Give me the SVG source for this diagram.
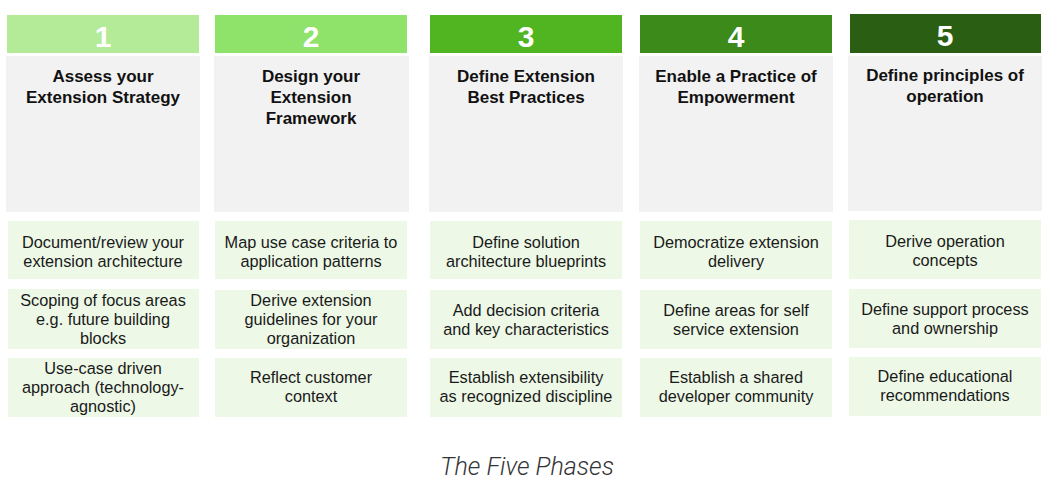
<svg xmlns="http://www.w3.org/2000/svg" width="1052" height="484" viewBox="0 0 1052 484">
<style>
.num{font-family:"Liberation Sans",Arial,sans-serif;font-weight:bold;font-size:30px;fill:#ffffff;text-anchor:middle}
.ttl{font-family:"Liberation Sans",Arial,sans-serif;font-weight:bold;font-size:17px;fill:#111111;text-anchor:middle}
.txt{font-family:"Liberation Sans",Arial,sans-serif;font-size:16.3px;fill:#1a1a1a;text-anchor:middle}
.gray{fill:#f2f2f2}
.lg{fill:#edf8e7}
.cap{font-family:Roboto,"Liberation Sans",sans-serif;font-style:italic;font-weight:300;font-size:25px;fill:#333333;text-anchor:middle}
</style>
<rect width="1052" height="484" fill="#ffffff"/>

<g id="phase1">
<rect x="7" y="15" width="192" height="38" fill="#b3eb98"/>
<text class="num" x="103" y="47">1</text>
<rect class="gray" x="6" y="56" width="194" height="156"/>
<text class="ttl" x="103" y="82">Assess your</text>
<text class="ttl" x="103" y="103">Extension Strategy</text>
<rect class="lg" x="8" y="221" width="191" height="58"/>
<text class="txt" x="103" y="248">Document/review your</text>
<text class="txt" x="103" y="267">extension architecture</text>
<rect class="lg" x="8" y="289" width="191" height="60"/>
<text class="txt" x="103" y="306">Scoping of focus areas</text>
<text class="txt" x="103" y="325">e.g. future building</text>
<text class="txt" x="103" y="344">blocks</text>
<rect class="lg" x="8" y="358" width="191" height="59"/>
<text class="txt" x="103" y="374">Use-case driven</text>
<text class="txt" x="103" y="393">approach (technology-</text>
<text class="txt" x="103" y="412">agnostic)</text>
</g>

<g id="phase2">
<rect x="215" y="15" width="192" height="38" fill="#8fe36a"/>
<text class="num" x="311" y="47">2</text>
<rect class="gray" x="214" y="56" width="195" height="156"/>
<text class="ttl" x="311" y="82">Design your</text>
<text class="ttl" x="311" y="103">Extension</text>
<text class="ttl" x="311" y="124">Framework</text>
<rect class="lg" x="215" y="221" width="192" height="58"/>
<text class="txt" x="311" y="248">Map use case criteria to</text>
<text class="txt" x="311" y="267">application patterns</text>
<rect class="lg" x="215" y="290" width="192" height="59"/>
<text class="txt" x="311" y="306">Derive extension</text>
<text class="txt" x="311" y="325">guidelines for your</text>
<text class="txt" x="311" y="344">organization</text>
<rect class="lg" x="215" y="358" width="192" height="59"/>
<text class="txt" x="311" y="383">Reflect customer</text>
<text class="txt" x="311" y="402">context</text>
</g>

<g id="phase3">
<rect x="430" y="15" width="192" height="38" fill="#50b520"/>
<text class="num" x="526" y="47">3</text>
<rect class="gray" x="429" y="56" width="194" height="156"/>
<text class="ttl" x="526" y="82">Define Extension</text>
<text class="ttl" x="526" y="103">Best Practices</text>
<rect class="lg" x="430" y="221" width="192" height="58"/>
<text class="txt" x="526" y="248">Define solution</text>
<text class="txt" x="526" y="267">architecture blueprints</text>
<rect class="lg" x="430" y="290" width="192" height="59"/>
<text class="txt" x="526" y="316">Add decision criteria</text>
<text class="txt" x="526" y="335">and key characteristics</text>
<rect class="lg" x="430" y="358" width="192" height="59"/>
<text class="txt" x="526" y="383">Establish extensibility</text>
<text class="txt" x="526" y="402">as recognized discipline</text>
</g>

<g id="phase4">
<rect x="640" y="15" width="192" height="38" fill="#3b8a1a"/>
<text class="num" x="736" y="47">4</text>
<rect class="gray" x="639" y="56" width="194" height="156"/>
<text class="ttl" x="736" y="82">Enable a Practice of</text>
<text class="ttl" x="736" y="103">Empowerment</text>
<rect class="lg" x="640" y="221" width="192" height="58"/>
<text class="txt" x="736" y="248">Democratize extension</text>
<text class="txt" x="736" y="267">delivery</text>
<rect class="lg" x="640" y="290" width="192" height="59"/>
<text class="txt" x="736" y="316">Define areas for self</text>
<text class="txt" x="736" y="335">service extension</text>
<rect class="lg" x="640" y="358" width="192" height="59"/>
<text class="txt" x="736" y="383">Establish a shared</text>
<text class="txt" x="736" y="402">developer community</text>
</g>

<g id="phase5">
<rect x="850" y="14" width="191" height="39" fill="#2a5e12"/>
<text class="num" x="945" y="46">5</text>
<rect class="gray" x="848" y="56" width="194" height="155"/>
<text class="ttl" x="945" y="81">Define principles of</text>
<text class="ttl" x="945" y="102">operation</text>
<rect class="lg" x="849" y="220" width="192" height="59"/>
<text class="txt" x="945" y="247">Derive operation</text>
<text class="txt" x="945" y="266">concepts</text>
<rect class="lg" x="849" y="289" width="192" height="59"/>
<text class="txt" x="945" y="315">Define support process</text>
<text class="txt" x="945" y="334">and ownership</text>
<rect class="lg" x="849" y="357" width="192" height="59"/>
<text class="txt" x="945" y="382">Define educational</text>
<text class="txt" x="945" y="401">recommendations</text>
</g>

<g id="connectors"></g>

<text class="cap" x="527" y="475">The Five Phases</text>
</svg>
